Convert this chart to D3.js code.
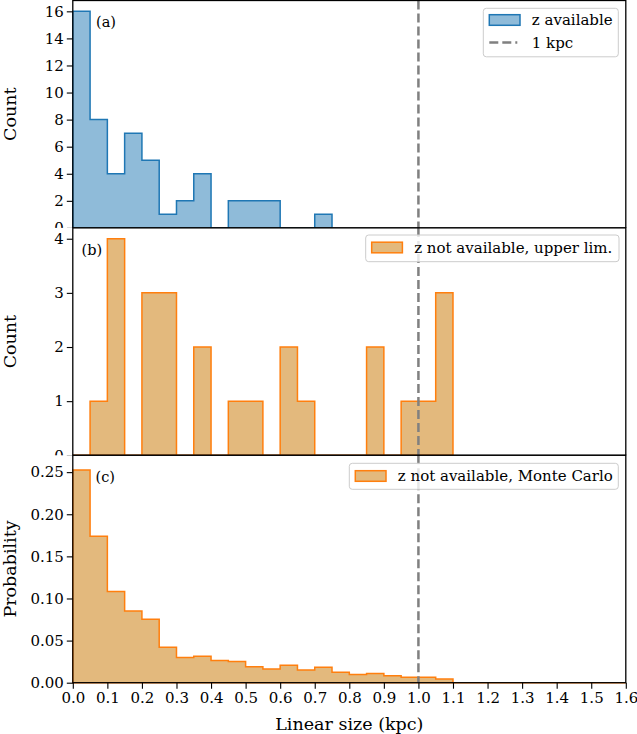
<!DOCTYPE html>
<html>
<head>
<meta charset="utf-8">
<script src="https://cdn.jsdelivr.net/npm/d3@7"></script>
<style>
  body { margin: 0; background: white; }
  text { font-family: "DejaVu Serif", serif; fill: #000; }
</style>
</head>
<body>
<svg id="svg1"></svg>
<script>
// histogram bins, 0.05 kpc wide starting at 0
var binW = 0.05;
var countsA = [16, 8, 4, 7, 5, 1, 2, 4, 0, 2, 2, 2, 0, 0, 1];
var countsB = [0, 1, 4, 0, 3, 3, 0, 2, 0, 1, 1, 0, 2, 1, 0, 0, 0, 2, 0, 1, 1, 3];
var probC = [0.2526, 0.174, 0.1084, 0.0850, 0.0752, 0.0420, 0.0298, 0.0314, 0.0265, 0.0252,
             0.0188, 0.0164, 0.0206, 0.0152, 0.0182, 0.0125, 0.0097, 0.0108, 0.0082, 0.0064,
             0.0064, 0.0045, 0, 0, 0, 0, 0, 0, 0, 0, 0, 0];
var ticksA = [0, 2, 4, 6, 8, 10, 12, 14, 16];
var ticksB = [0, 1, 2, 3, 4];
var ticksC = [0, 0.05, 0.10, 0.15, 0.20, 0.25];
var ticksX = [0, 0.1, 0.2, 0.3, 0.4, 0.5, 0.6, 0.7, 0.8, 0.9, 1.0, 1.1, 1.2, 1.3, 1.4, 1.5, 1.6];
var refLine = 1.0;

var width = 637, height = 734;
var left = 72.8, right = 625.8;
var blueFill = "#8fbbd9", blueEdge = "#1f77b4";
var orFill = "#e3b97d", orEdge = "#ff7f0e";

var svg1 = d3.select("#svg1").attr("width", width).attr("height", height);

var x = d3.scaleLinear().domain([0, 1.6]).range([left, right]);

var panels = [
  { counts: countsA, ymax: 16.8, ticks: ticksA, fmt: d3.format("d"), top: 0.5, bottom: 227.9,
    fill: blueFill, edge: blueEdge, ylabel: "Count", tag: "(a)", tagX: 96, tagY: 27,
    legend: { x: 483.3, y: 8.3, w: 135, h: 48.5, items: [
      { type: "patch", label: "z available", cy: 20 },
      { type: "dash", label: "1 kpc", cy: 42.5 } ] } },
  { counts: countsB, ymax: 4.2, ticks: ticksB, fmt: d3.format("d"), top: 227.9, bottom: 455.3,
    fill: orFill, edge: orEdge, ylabel: "Count", tag: "(b)", tagX: 81.5, tagY: 255,
    legend: { x: 365.7, y: 235, w: 253.3, h: 26.7, items: [
      { type: "patch", label: "z not available, upper lim.", cy: 247.5 } ] } },
  { counts: probC, ymax: 0.27, ticks: ticksC, fmt: d3.format(".2f"), top: 455.3, bottom: 682.7,
    fill: orFill, edge: orEdge, ylabel: "Probability", tag: "(c)", tagX: 95.5, tagY: 482,
    legend: { x: 349.3, y: 463.3, w: 269, h: 26, items: [
      { type: "patch", label: "z not available, Monte Carlo", cy: 476 } ] } }
];

panels.forEach(function(p, i) {
  var y = d3.scaleLinear().domain([0, p.ymax]).range([p.bottom, p.top]);
  var g = svg1.append("g");

  // white background covers the previous panel's bottom tick label
  g.append("rect").attr("x", 0).attr("y", p.top).attr("width", width)
    .attr("height", (i == 2 ? height : p.bottom) - p.top).attr("fill", "white");

  // stepfilled histogram outline
  var pts = [[x(0), y(0)]];
  p.counts.forEach(function(c, k) {
    pts.push([x(k * binW), y(c)]);
    pts.push([x((k + 1) * binW), y(c)]);
  });
  pts.push([x(p.counts.length * binW), y(0)]);
  g.append("path")
    .attr("d", d3.line()(pts) + "Z")
    .attr("fill", p.fill)
    .attr("stroke", p.edge)
    .attr("stroke-width", 1.5)
    .attr("stroke-linejoin", "miter");

  // 1 kpc line
  g.append("line")
    .attr("x1", x(refLine)).attr("x2", x(refLine))
    .attr("y1", p.top).attr("y2", p.bottom)
    .attr("stroke", "#808080").attr("stroke-width", 2.5)
    .attr("stroke-dasharray", "9,4");

  // y axis
  var ya = g.append("g")
    .attr("transform", "translate(" + left + ",0)")
    .call(d3.axisLeft(y).tickValues(p.ticks).tickFormat(p.fmt).tickSize(6).tickPadding(3));
  ya.select(".domain").remove();
  ya.selectAll("line").attr("stroke", "#000").attr("stroke-width", 1.1);
  ya.selectAll("text").style("font-size", "15px").style("font-family", "DejaVu Serif");

  if (i == 2) {
    var xa = g.append("g")
      .attr("transform", "translate(0," + p.bottom + ")")
      .call(d3.axisBottom(x).tickValues(ticksX).tickFormat(d3.format(".1f")).tickSize(6).tickPadding(4));
    xa.select(".domain").remove();
    xa.selectAll("line").attr("stroke", "#000").attr("stroke-width", 1.1);
    xa.selectAll("text").style("font-size", "15px").style("font-family", "DejaVu Serif");

    g.append("text")
      .attr("x", (left + right) / 2).attr("y", 730)
      .attr("text-anchor", "middle")
      .style("font-size", "17.5px")
      .text("Linear size (kpc)");
  }

  // spines
  g.append("rect")
    .attr("x", left).attr("y", p.top)
    .attr("width", right - left).attr("height", p.bottom - p.top)
    .attr("fill", "none").attr("stroke", "#000").attr("stroke-width", 1.3);

  // y label
  g.append("text")
    .attr("transform", "translate(15.5," + (p.top + p.bottom) / 2 + ") rotate(-90)")
    .attr("text-anchor", "middle")
    .style("font-size", "17.5px")
    .text(p.ylabel);

  // panel tag
  g.append("text").attr("x", p.tagX).attr("y", p.tagY)
    .style("font-size", "14.5px").text(p.tag);

  // legend
  var L = p.legend;
  var lg = g.append("g");
  lg.append("rect")
    .attr("x", L.x).attr("y", L.y).attr("width", L.w).attr("height", L.h)
    .attr("rx", 3).attr("fill", "white").attr("fill-opacity", 0.8)
    .attr("stroke", "#cccccc").attr("stroke-width", 1);
  L.items.forEach(function(it) {
    if (it.type == "patch") {
      lg.append("rect")
        .attr("x", L.x + 6).attr("y", it.cy - 5.3).attr("width", 30.7).attr("height", 10.6)
        .attr("fill", p.fill).attr("stroke", p.edge).attr("stroke-width", 1.5);
    } else {
      lg.append("line")
        .attr("x1", L.x + 6).attr("x2", L.x + 34)
        .attr("y1", it.cy).attr("y2", it.cy)
        .attr("stroke", "#808080").attr("stroke-width", 2.5)
        .attr("stroke-dasharray", "9,4");
    }
    lg.append("text")
      .attr("x", L.x + 48.5).attr("y", it.cy)
      .attr("dy", "0.35em")
      .style("font-size", "15px")
      .text(it.label);
  });
});
</script>
</body>
</html>
